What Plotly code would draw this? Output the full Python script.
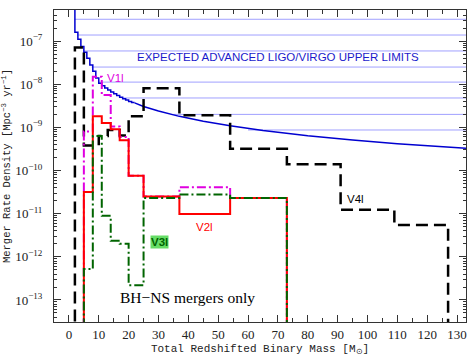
import plotly.graph_objects as go

# ---------------- data ----------------
# Expected Advanced LIGO/Virgo upper limit curve
limit_step_edges = [2, 3, 4, 5, 6, 7, 8, 9, 10, 11, 12, 13, 14, 15, 16, 17, 18, 19, 20, 21, 22]
limit_step_vals = [1.6e-7, 1.1e-7, 7.5e-8, 5.5e-8, 4.0e-8, 2.8e-8, 2.0e-8, 1.4e-8, 1.05e-8,
                   9.2e-9, 8.2e-9, 7.3e-9, 6.6e-9, 6.0e-9, 5.5e-9, 5.0e-9, 4.6e-9, 4.3e-9,
                   4.0e-9, 3.75e-9]
limit_smooth_mass = [22, 25, 30, 37, 45, 54, 65, 80, 95, 110, 133]
limit_smooth_vals = [3.7e-9, 3.05e-9, 2.4e-9, 1.8e-9, 1.39e-9, 1.09e-9, 8.5e-10, 6.4e-10,
                     5.1e-10, 4.2e-10, 3.3e-10]

# horizontal hatching above the limit curve
hatch_rates = [3.2e-7, 1.38e-7, 5.9e-8, 2.5e-8, 1.12e-8, 4.8e-9, 2.0e-9, 8.7e-10]
hatch_start = [2, 3, 5, 7.6, 10.2, 18, 35, 60]

# model histograms (bin edges in total mass, rate per bin)
v4_edges = [2, 5, 10, 13, 17, 20, 25, 37, 54, 73, 91, 109, 127]
v4_vals = [7.1e-8, 3.8e-10, 6.3e-10, 8.7e-10, 6.5e-10, 1.8e-9, 8.1e-9, 1.9e-9, 3.2e-10,
           1.4e-10, 1.23e-11, 5.5e-12]

v1_edges = [5, 8, 11, 14, 17, 20, 25, 37, 54, 73]
v1_vals = [8.0e-10, 1.5e-8, 5.6e-9, 1.05e-9, 6.0e-10, 7.6e-11, 2.5e-11, 4.1e-11, 2.3e-11]

v2_edges = [5, 8, 11, 14, 17, 20, 25, 37, 54, 73]
v2_vals = [3.2e-11, 1.8e-9, 1.26e-9, 9.0e-10, 5.0e-10, 7.6e-11, 2.5e-11, 9.8e-12, 2.3e-11]

v3_edges = [5, 8, 11, 14, 17, 20, 25, 37, 54, 73]
v3_vals = [5.2e-13, 6.3e-10, 8.9e-12, 2.35e-12, 2.0e-12, 2.2e-13, 2.3e-11, 2.8e-11, 2.3e-11]

x_ticks = [0, 10, 20, 30, 40, 50, 60, 70, 80, 90, 100, 110, 120, 130]
y_ticks = [1e-13, 1e-12, 1e-11, 1e-10, 1e-9, 1e-8, 1e-7]
y_ticktext = ["10<sup>\u221213</sup>", "10<sup>\u221212</sup>", "10<sup>\u221211</sup>",
              "10<sup>\u221210</sup>", "10<sup>\u22129</sup>", "10<sup>\u22128</sup>",
              "10<sup>\u22127</sup>"]

FLOOR = 1e-16
TOP = 1e-5


def hist_xy(edges, vals):
    xs = [edges[0], edges[0]]
    ys = [FLOOR, vals[0]]
    for e, v in zip(edges[1:-1], vals[1:]):
        xs.append(e)
        ys.append(v)
    xs += [edges[-1], edges[-1]]
    ys += [vals[-1], FLOOR]
    return xs, ys


fig = go.Figure()

# hatching lines
hx, hy = [], []
for r, s in zip(hatch_rates, hatch_start):
    hx += [s, 133, None]
    hy += [r, r, None]
fig.add_trace(go.Scatter(x=hx, y=hy, mode="lines", line=dict(color="#a0a0ff", width=1),
                         hoverinfo="skip", showlegend=False))

# limit curve
sx = [limit_step_edges[0]]
sy = [TOP]
for e, v in zip(limit_step_edges[:-1], limit_step_vals):
    sx.append(e)
    sy.append(v)
sx.append(limit_step_edges[-1])
sy.append(limit_step_vals[-1])
fig.add_trace(go.Scatter(x=sx, y=sy, mode="lines", line=dict(color="#0000d0", width=1.5, shape="hv"),
                         showlegend=False))
fig.add_trace(go.Scatter(x=limit_smooth_mass, y=limit_smooth_vals, mode="lines",
                         line=dict(color="#0000d0", width=1.5), showlegend=False))

# histograms
for edges, vals, color, dash, width in [
    (v4_edges, v4_vals, "black", "12px,6px", 2.5),
    (v1_edges, v1_vals, "#e000e0", "9px,3px,2px,3px", 2),
    (v2_edges, v2_vals, "#ff0000", "solid", 2),
    (v3_edges, v3_vals, "#006400", "9px,3px,2px,3px", 2),
]:
    x, y = hist_xy(edges, vals)
    fig.add_trace(go.Scatter(x=x, y=y, mode="lines",
                             line=dict(color=color, dash=dash, width=width, shape="hv"),
                             showlegend=False))

ann = [
    dict(x=70, y=-7.36, text="EXPECTED ADVANCED LIGO/VIRGO UPPER LIMITS",
         font=dict(family="Liberation Sans", size=11.5, color="#1a1acc")),
    dict(x=15.5, y=-7.86, text="V1l", font=dict(family="Liberation Sans", size=11.5, color="#e000e0")),
    dict(x=45.3, y=-11.31, text="V2l", font=dict(family="Liberation Sans", size=11.5, color="#ff0000")),
    dict(x=30.3, y=-11.66, text="<b>V3l</b>", font=dict(family="Liberation Sans", size=11.5, color="#006400"),
         bgcolor="#66dd66"),
    dict(x=96, y=-10.66, text="V4l", font=dict(family="Liberation Sans", size=11.5, color="black")),
    dict(x=39.7, y=-12.94, text="BH\u2212NS mergers only",
         font=dict(family="Liberation Serif", size=15.5, color="black")),
]
for a in ann:
    fig.add_annotation(xref="x", yref="y", showarrow=False, borderpad=0, **a)

axis_common = dict(showline=True, linecolor="#333333", linewidth=1, mirror="allticks",
                   ticks="inside", showgrid=False, zeroline=False, automargin=False,
                   tickfont=dict(family="Liberation Serif", size=13, color="#222222"))

fig.update_xaxes(range=[-5, 133], tickmode="linear", tick0=0, dtick=10, ticklen=7, tickcolor="#333333",
                 minor=dict(ticks="inside", ticklen=4, dtick=5, tick0=0, tickcolor="#333333"),
                 title=dict(text="Total Redshifted Binary Mass [M<sub>\u2299</sub>]",
                            font=dict(family="Liberation Mono", size=11, color="#222222"), standoff=3),
                 **axis_common)
fig.update_yaxes(type="log", range=[-13.51, -6.28], tickmode="array", tickvals=y_ticks,
                 ticktext=y_ticktext,
                 ticklen=7, tickcolor="#333333", ticklabelstandoff=8,
                 minor=dict(ticks="inside", ticklen=3, dtick="D1", tickcolor="#333333"),
                 title=dict(text="Merger Rate Density [Mpc<sup>\u22123</sup> yr<sup>\u22121</sup>]",
                            font=dict(family="Liberation Mono", size=10.5, color="#222222"), standoff=6),
                 **axis_common)

fig.update_layout(width=474, height=364, margin=dict(l=54, r=8, t=10, b=42, autoexpand=False),
                  plot_bgcolor="white", paper_bgcolor="white")

fig.write_html("out.html", config={"displayModeBar": False},
               post_script="document.body.style.margin='0px';document.body.style.overflow='hidden';")
